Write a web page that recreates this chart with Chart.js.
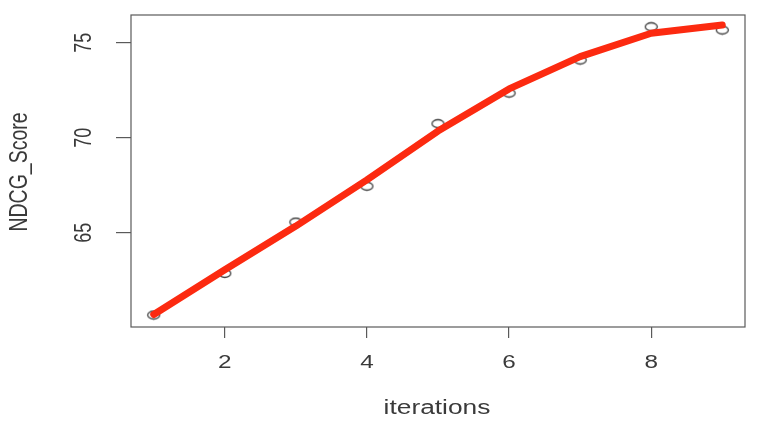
<!DOCTYPE html>
<html>
<head>
<meta charset="utf-8">
<script src="https://cdn.jsdelivr.net/npm/chart.js@4.4.1/dist/chart.umd.min.js"></script>
<style>
  html, body { margin: 0; padding: 0; background: #fff; }
  canvas { display: block; }
</style>
</head>
<body>
<canvas id="plot" width="763" height="423"></canvas>
<script>
// values
const iterations = [1, 2, 3, 4, 5, 6, 7, 8, 9];
const ndcgScore = [60.67, 62.86, 65.56, 67.45, 70.74, 72.35, 74.09, 75.84, 75.67];
// smoothed (lowess) curve drawn in red
const smoothScore = [60.7, 63.05, 65.35, 67.78, 70.35, 72.57, 74.27, 75.5, 75.93];

const xTicks = [2, 4, 6, 8];
const yTicks = [65, 70, 75];

const xLabel = 'iterations';
const yLabel = 'NDCG_Score';

// the picture is stretched sideways, so text and circles are too
const STRETCH = 1.35;
const INK = '#3a3a3a';
const FONT = '"Liberation Sans", Arial, sans-serif';

// open circle, a bit wider than tall
const ring = document.createElement('canvas');
ring.width = 15; ring.height = 11;
(function () {
  const c = ring.getContext('2d');
  c.strokeStyle = '#3f3f3f';
  c.lineWidth = 1.3;
  c.beginPath();
  c.ellipse(7.5, 5.5, 6, 4, 0, 0, Math.PI * 2);
  c.stroke();
})();

const rText = {
  id: 'rText',
  afterDraw(chart) {
    const ctx = chart.ctx;
    const xs = chart.scales.x, ys = chart.scales.y;
    const a = chart.chartArea;
    ctx.save();
    // box round the plot
    ctx.strokeStyle = '#5a5a5a';
    ctx.lineWidth = 1.2;
    ctx.strokeRect(a.left, a.top, a.right - a.left, a.bottom - a.top);

    ctx.fillStyle = INK;
    ctx.textAlign = 'center';
    ctx.textBaseline = 'alphabetic';

    ctx.font = '18px ' + FONT;
    xTicks.forEach(v => {
      ctx.save();
      ctx.translate(xs.getPixelForValue(v), 368);
      ctx.scale(STRETCH, 1);
      ctx.fillText(String(v), 0, 0);
      ctx.restore();
    });
    yTicks.forEach(v => {
      ctx.save();
      ctx.translate(82.5, ys.getPixelForValue(v));
      ctx.scale(STRETCH, 1);
      ctx.rotate(-Math.PI / 2);
      ctx.fillText(String(v), 0, 0.358 * 18);
      ctx.restore();
    });

    ctx.font = '19.5px ' + FONT;
    ctx.save();
    ctx.translate(437, 414);
    ctx.scale(STRETCH, 1);
    ctx.fillText(xLabel, 0, 0);
    ctx.restore();

    ctx.save();
    ctx.translate(17.5, 172);
    ctx.scale(STRETCH, 1);
    ctx.rotate(-Math.PI / 2);
    ctx.fillText(yLabel, 0, 0.36 * 19.5);
    ctx.restore();

    ctx.restore();
  }
};

new Chart(document.getElementById('plot'), {
  type: 'scatter',
  data: {
    datasets: [
      {
        label: 'smooth',
        type: 'line',
        data: iterations.map((x, i) => ({ x: x, y: smoothScore[i] })),
        borderColor: '#fc2a10',
        borderWidth: 7,
        borderCapStyle: 'round',
        borderJoinStyle: 'round',
        pointRadius: 0,
        tension: 0,
        fill: false
      },
      {
        label: 'NDCG_Score',
        data: iterations.map((x, i) => ({ x: x, y: ndcgScore[i] })),
        pointStyle: ring,
        pointRadius: 6
      }
    ]
  },
  options: {
    responsive: false,
    animation: false,
    events: [],
    layout: { padding: { top: 15, right: 18, left: 0, bottom: 0 } },
    plugins: {
      legend: { display: false },
      tooltip: { enabled: false }
    },
    scales: {
      x: {
        type: 'linear',
        min: 0.68,
        max: 9.32,
        afterBuildTicks: s => { s.ticks = xTicks.map(v => ({ value: v })); },
        afterFit: s => { s.height = 96; },
        ticks: { display: false },
        border: { display: false },
        grid: { drawOnChartArea: false, color: '#5a5a5a', lineWidth: 1.2, tickLength: 11 }
      },
      y: {
        min: 60.04,
        max: 76.46,
        afterBuildTicks: s => { s.ticks = yTicks.map(v => ({ value: v })); },
        afterFit: s => { s.width = 131; },
        ticks: { display: false },
        border: { display: false },
        grid: { drawOnChartArea: false, color: '#5a5a5a', lineWidth: 1.2, tickLength: 15 }
      }
    }
  },
  plugins: [rText]
});
</script>
</body>
</html>
